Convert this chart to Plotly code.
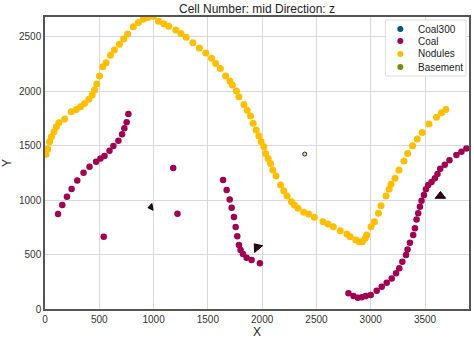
import plotly.graph_objects as go

# ---- data ----
nodules_x = [10, 25, 42, 60, 83, 105, 128, 181, 242, 288, 327, 364, 404, 435, 456, 477, 502, 532, 563, 603,
             639, 685, 725, 761, 813, 860, 905, 950, 1000, 1046, 1095, 1140, 1205, 1252, 1300, 1362, 1422,
             1481, 1534, 1572, 1615, 1664, 1703, 1725, 1763, 1786, 1832, 1862, 1893, 1917, 1945, 1970, 1991,
             2016, 2031, 2055, 2077, 2098, 2128, 2169, 2199, 2229, 2270, 2297, 2330, 2383, 2428, 2481, 2560,
             2606, 2655, 2719, 2780, 2811, 2863, 2894, 2924, 2949, 2964, 3003, 3034, 3071, 3095, 3141, 3169,
             3187, 3224, 3260, 3306, 3340, 3385, 3428, 3474, 3536, 3606, 3652, 3692]
nodules_y = [1420, 1468, 1535, 1581, 1627, 1673, 1709, 1743, 1810, 1832, 1856, 1887, 1924, 1963, 2009, 2064,
             2138, 2223, 2260, 2330, 2376, 2431, 2477, 2523, 2590, 2630, 2660, 2676, 2688, 2640, 2618, 2596,
             2560, 2529, 2495, 2443, 2396, 2349, 2302, 2254, 2208, 2138, 2092, 2055, 2000, 1948, 1878, 1823,
             1771, 1704, 1642, 1587, 1535, 1489, 1428, 1382, 1336, 1275, 1220, 1138, 1085, 1037, 984, 954,
             924, 887, 872, 841, 801, 780, 755, 718, 688, 663, 633, 617, 617, 649, 679, 755, 801, 878, 948,
             1037, 1098, 1144, 1199, 1275, 1358, 1428, 1498, 1560, 1621, 1697, 1759, 1801, 1832]

coal_x = [120, 159, 202, 245, 297, 355, 410, 471, 511, 548, 594, 630, 676, 710, 731, 752, 768,
          541, 1181, 1220,
          1640, 1673, 1701, 1719, 1740, 1756, 1771, 1786, 1801, 1823, 1857, 1903, 1979,
          2795, 2841, 2881, 2917, 2954, 3000, 3055, 3101, 3147, 3193, 3233, 3263, 3291, 3325, 3339, 3361,
          3391, 3407, 3422, 3437, 3453, 3468, 3490, 3508, 3529, 3560, 3591, 3615, 3640, 3682, 3725, 3789,
          3835, 3881]
coal_y = [872, 954, 1031, 1101, 1180, 1250, 1306, 1351, 1382, 1404, 1452, 1495, 1544, 1605, 1658, 1713, 1789,
          663, 1294, 874,
          1185, 1092, 1005, 929, 845, 752, 668, 587, 541, 505, 471, 450, 419,
          144, 119, 104, 107, 119, 128, 168, 205, 241, 281, 327, 373, 434, 495, 547, 608,
          679, 740, 822, 878, 939, 994, 1046, 1098, 1138, 1165, 1199, 1239, 1288, 1325, 1365, 1413,
          1443, 1474]

orient_x = [976, 1954, 3642]
orient_y = [935, 566, 1037]
orient_angle = [-100, -40, 0]

basement_x = [2392]
basement_y = [1422]

series_names = ["Coal300", "Coal", "Nodules", "Basement"]
series_colors = ["#015482", "#9f0052", "#ffbe00", "#728f02"]

x_ticks = [0, 500, 1000, 1500, 2000, 2500, 3000, 3500]
y_ticks = [0, 500, 1000, 1500, 2000, 2500]

FONT = "Liberation Sans, Arial, sans-serif"

fig = go.Figure()

fig.add_trace(go.Scatter(x=coal_x, y=coal_y, mode="markers", name=series_names[1], showlegend=False,
                         marker=dict(color=series_colors[1], size=6.5)))
fig.add_trace(go.Scatter(x=nodules_x, y=nodules_y, mode="markers", name=series_names[2], showlegend=False,
                         marker=dict(color=series_colors[2], size=7)))
fig.add_trace(go.Scatter(x=basement_x, y=basement_y, mode="markers", showlegend=False,
                         marker=dict(color="#e8e0b0", size=4, line=dict(color="#222", width=1))))
fig.add_trace(go.Scatter(x=orient_x, y=orient_y, mode="markers", showlegend=False, opacity=1,
                         marker=dict(symbol="triangle-up", color="#3d001f", size=[6, 9, 9], opacity=1,
                                     angle=orient_angle, line=dict(color="#000000", width=1))))

# ---- custom legend (compact rows like the reference) ----
L, T, W, H = 45, 17, 426, 292   # plot area in px
def px_x(p):
    return (p - L) / W
def px_y(p):
    return (T + H - p) / H

shapes = [dict(type="rect", xref="paper", yref="paper",
               x0=px_x(387), x1=px_x(468), y0=px_y(76), y1=px_y(20),
               line=dict(color="#dddddd", width=1), fillcolor="white", layer="above")]
annotations = []
row_y = [29, 41, 54, 67]
for name, col, ry in zip(series_names, series_colors, row_y):
    shapes.append(dict(type="circle", xref="paper", yref="paper", xsizemode="pixel", ysizemode="pixel",
                       xanchor=px_x(402), yanchor=px_y(ry), x0=-3, x1=3, y0=-3, y1=3,
                       fillcolor=col, line=dict(width=0), layer="above"))
    annotations.append(dict(xref="paper", yref="paper", x=px_x(418), y=px_y(ry), text=name,
                            showarrow=False, xanchor="left", yanchor="middle",
                            font=dict(family=FONT, size=10, color="#222")))

fig.update_layout(
    width=474, height=342,
    margin=dict(l=45, r=3, t=17, b=33),
    paper_bgcolor="white", plot_bgcolor="white",
    font=dict(family=FONT, size=10, color="#333"),
    title=dict(text="Cell Number: mid Direction: z", x=0.5, xref="paper", y=0.973, yanchor="middle",
               font=dict(family=FONT, size=12, color="#222")),
    showlegend=False,
    shapes=shapes, annotations=annotations,
)
fig.update_xaxes(range=[0, 3905], tickvals=x_ticks, showgrid=True, gridcolor="#d8d8d8", gridwidth=1,
                 showline=True, linecolor="#555", linewidth=1.5, mirror=True, zeroline=False,
                 ticks="", tickfont=dict(size=10, color="#333"),
                 title=dict(text="X", font=dict(size=12, color="#222"), standoff=2))
fig.update_yaxes(range=[0, 2680], tickvals=y_ticks, showgrid=True, gridcolor="#d8d8d8", gridwidth=1,
                 showline=True, linecolor="#555", linewidth=1.5, mirror=True, zeroline=False,
                 ticks="", tickfont=dict(size=10, color="#333"),
                 title=dict(text="Y", font=dict(size=12, color="#222"), standoff=6))

fig.write_html("out.html")
